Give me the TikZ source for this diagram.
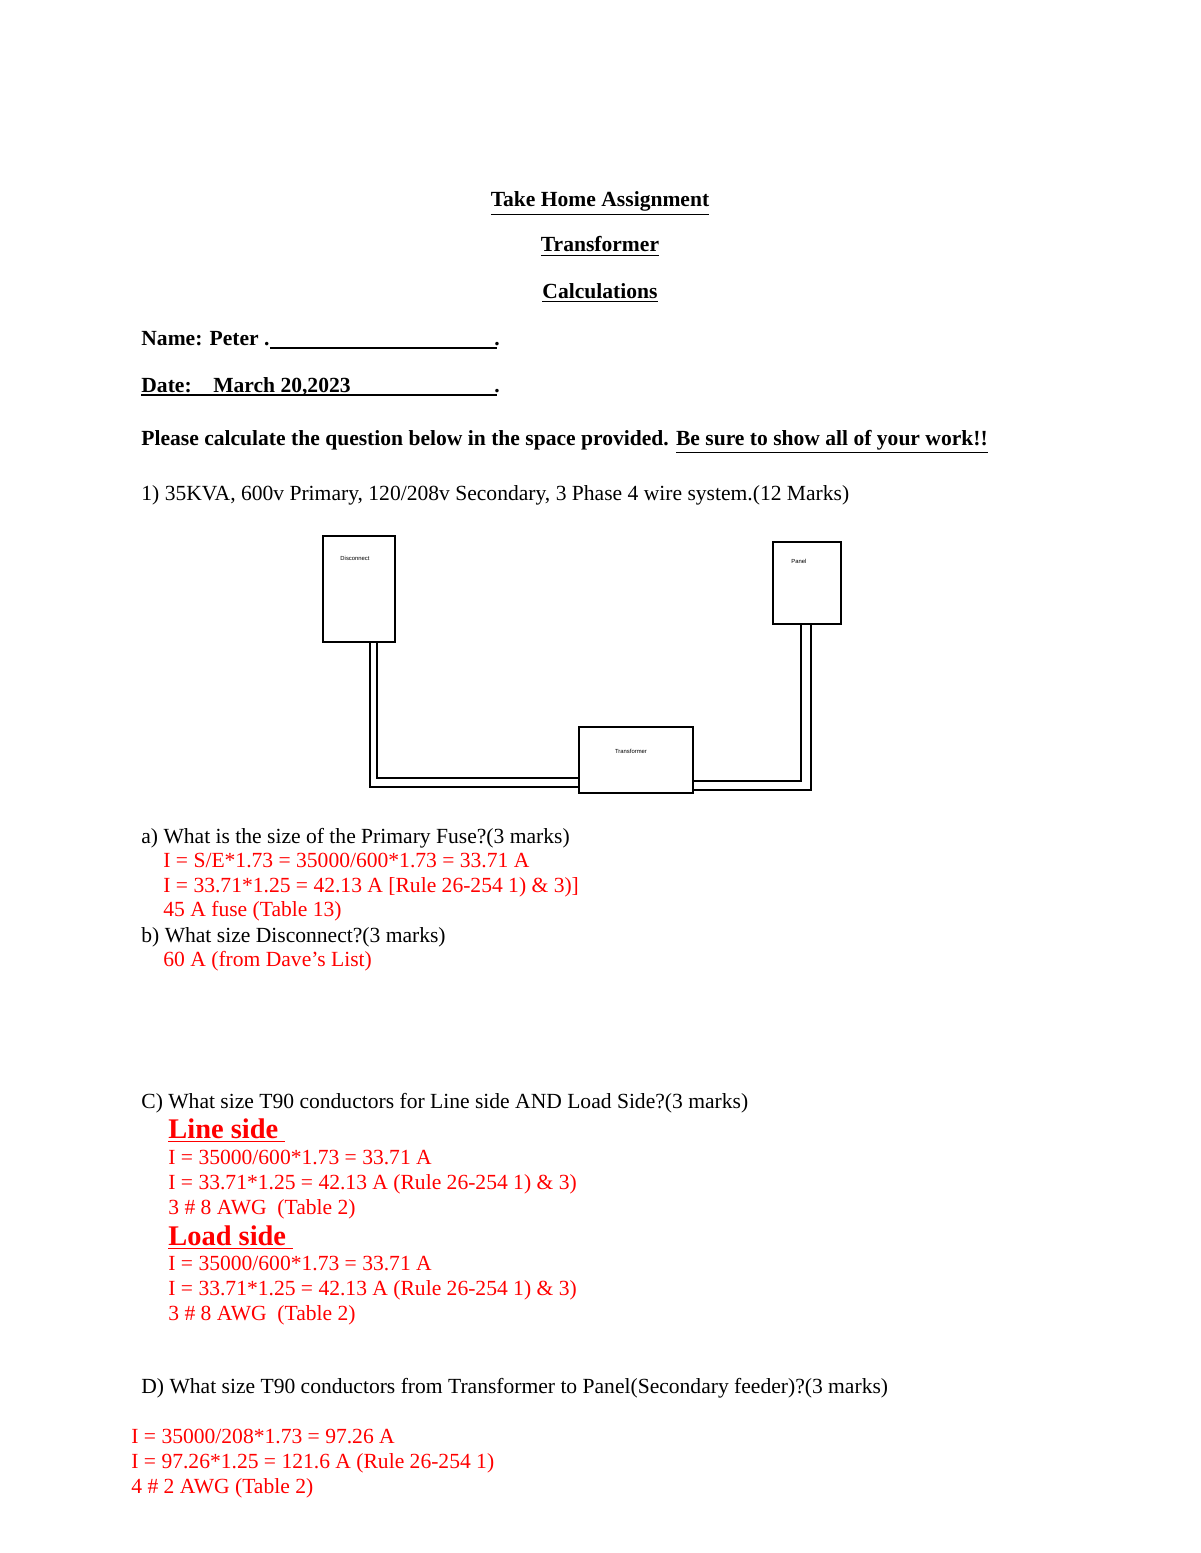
\documentclass[tikz,border=0pt]{standalone}
\usepackage{fontspec}
\setmainfont{Liberation Serif}
\setsansfont{Liberation Sans}
\newcommand{\myul}[1]{\underline{#1}}
\begin{document}
\begin{tikzpicture}[x=0.51pt,y=-0.51pt,
  t/.style={anchor=base west,inner sep=0pt,font=\fontsize{11}{13}\selectfont},
  c/.style={anchor=base,inner sep=0pt,font=\fontsize{11}{13}\selectfont\bfseries},
  b/.style={anchor=base west,inner sep=0pt,font=\fontsize{11}{13}\selectfont\bfseries},
  r/.style={t,text=red},
  big/.style={anchor=base west,inner sep=0pt,text=red,font=\fontsize{14.5}{17}\selectfont\bfseries},
  box/.style={draw,line width=1.2pt},
  lab/.style={font=\sffamily\fontsize{3}{3}\selectfont,inner sep=0pt},
  wire/.style={line width=1.2pt}]
\useasboundingbox (0,0) rectangle (1200,1553);
\node[c] (h1) at (600,207) {\myul{Take Home Assignment}};
\node[c] (h2) at (600,252) {\myul{Transformer}};
\node[c] (h3) at (600,298) {\myul{Calculations}};
\node[b] (nm) at (141,345) {Name: Peter .};
\node[b] (nmd) at (494,345) {.};
\draw[line width=0.6pt] (nm.base east) ++(0,3) -- (497,348);
\node[b] (dt) at (141,392) {Date:\quad March 20,2023};
\node[b] (dtd) at (494,392) {.};
\draw[line width=0.6pt] (141,395) -- (497,395);
\node[b] (pl) at (141,445) {Please calculate the question below in the space provided. \myul{Be sure to show all of your work!!}};
\node[t] (q1) at (141,500) {1) 35KVA, 600v Primary, 120/208v Secondary, 3 Phase 4 wire system.(12 Marks)};
% diagram
\node[box,minimum width=72*0.51pt,minimum height=106*0.51pt,anchor=north west] (disc) at (322,535) {};
\node[lab] (disclab) at (355,558) {Disconnect};
\node[box,minimum width=68*0.51pt,minimum height=82*0.51pt,anchor=north west] (pan) at (772,541) {};
\node[lab] (panlab) at (799,561) {Panel};
\node[box,minimum width=114*0.51pt,minimum height=66*0.51pt,anchor=north west] (tr) at (578,726) {};
\node[lab] (trlab) at (631,751) {Transformer};
\draw[wire] (disc.south -| 370,0) -- (370,787) -- (tr.west |- 0,787);
\draw[wire] (disc.south -| 377,0) -- (377,778) -- (tr.west |- 0,778);
\draw[wire] (pan.south -| 801,0) -- (801,781) -- (tr.east |- 0,781);
\draw[wire] (pan.south -| 811,0) -- (811,790) -- (tr.east |- 0,790);
% answers
\node[t] (qa) at (141,843) {a) What is the size of the Primary Fuse?(3 marks)};
\node[r] (a1) at (163,867) {I = S/E*1.73 = 35000/600*1.73 = 33.71 A};
\node[r] (a2) at (163,892) {I = 33.71*1.25 = 42.13 A  [Rule 26-254 1) \& 3)]};
\node[r] (a3) at (163,916) {45 A fuse (Table 13)};
\node[t] (qb) at (141,942) {b) What size Disconnect?(3 marks)};
\node[r] (b1) at (163,966) {60 A (from Dave’s List)};
\node[t] (qc) at (141,1108) {C) What size T90 conductors for Line side AND Load Side?(3 marks)};
\node[big] (ls) at (168,1138) {\myul{Line side\ }};
\node[r] (c1) at (168,1164) {I = 35000/600*1.73 = 33.71 A};
\node[r] (c2) at (168,1189) {I = 33.71*1.25 = 42.13 A (Rule 26-254 1) \& 3)};
\node[r] (c3) at (168,1214) {3 \# 8 AWG\enspace (Table 2)};
\node[big] (ld) at (168,1245) {\myul{Load side\ }};
\node[r] (c4) at (168,1270) {I = 35000/600*1.73 = 33.71 A};
\node[r] (c5) at (168,1295) {I = 33.71*1.25 = 42.13 A (Rule 26-254 1) \& 3)};
\node[r] (c6) at (168,1320) {3 \# 8 AWG\enspace (Table 2)};
\node[t] (qd) at (141,1393) {D) What size T90 conductors from Transformer to Panel(Secondary feeder)?(3 marks)};
\node[r] (d1) at (131,1443) {I = 35000/208*1.73 = 97.26 A};
\node[r] (d2) at (131,1468) {I = 97.26*1.25 = 121.6 A (Rule 26-254 1)};
\node[r] (d3) at (131,1493) {4 \# 2 AWG (Table 2)};
\end{tikzpicture}
\end{document}
